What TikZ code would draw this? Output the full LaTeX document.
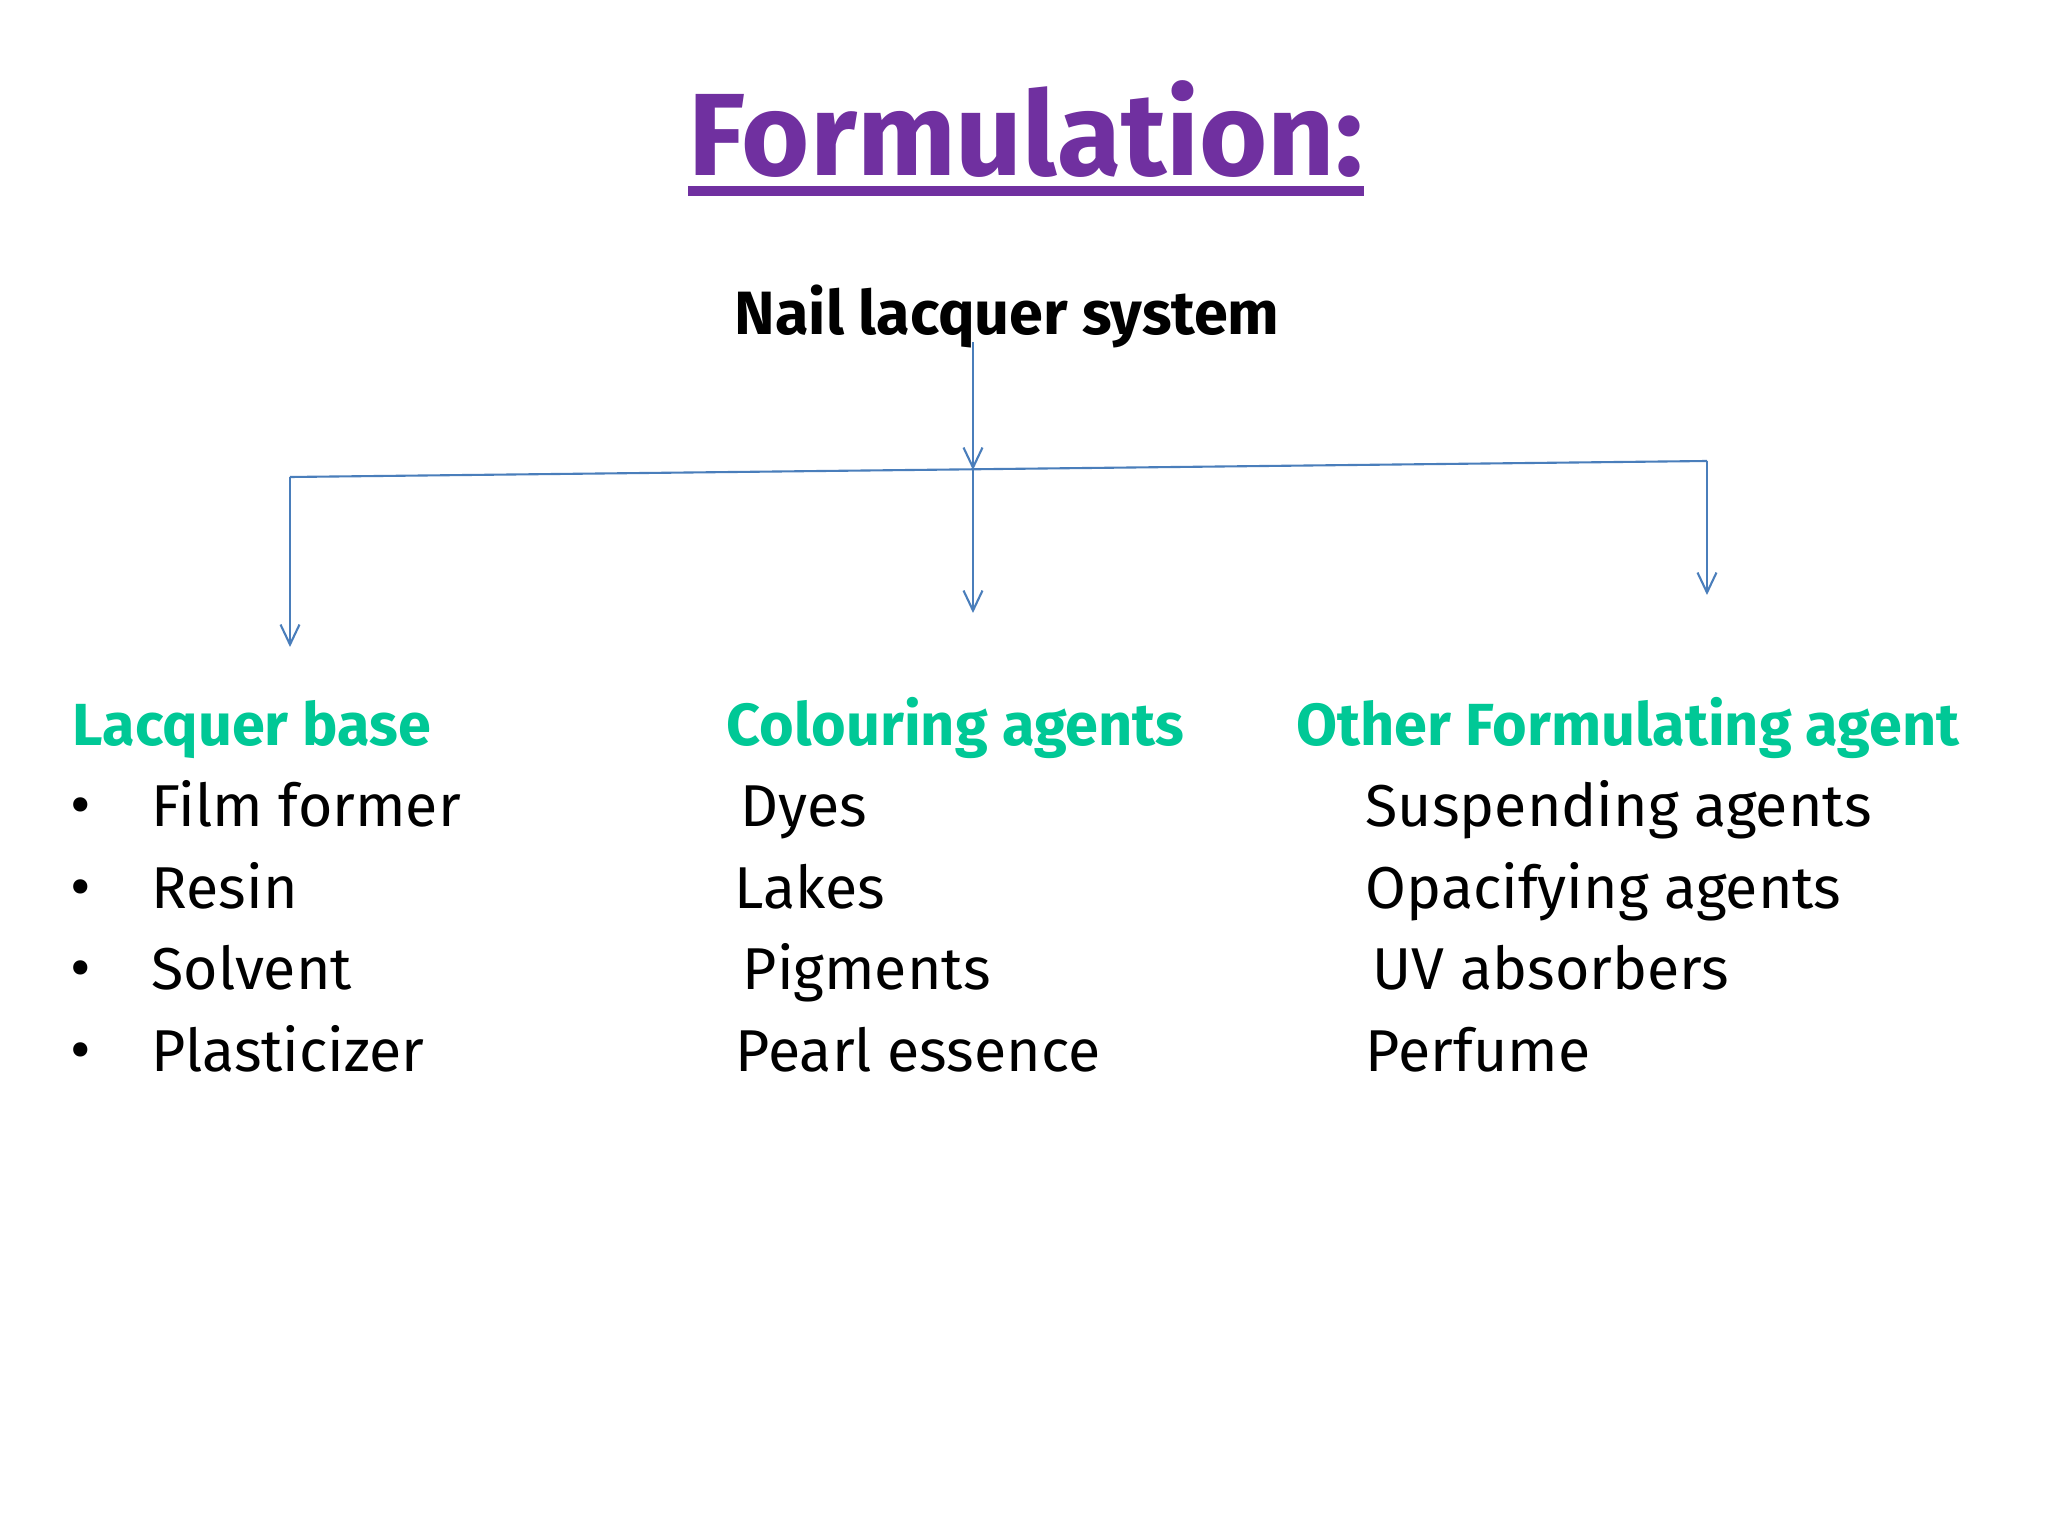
\documentclass[tikz,border=0pt]{standalone}
\usepackage{fontspec}
\setmainfont{Fira Sans}
\usetikzlibrary{arrows.meta}

\definecolor{titlepurple}{HTML}{7030A0}
\definecolor{headgreen}{HTML}{00C896}
\definecolor{linkblue}{HTML}{4A7EBB}

\begin{document}
\begin{tikzpicture}[x=1cm, y=-1cm, >={Straight Barb[length=2mm, width=1.9mm]},
  title/.style={anchor=base west, inner sep=0pt, text=titlepurple,
    font=\fontsize{33.3}{40}\selectfont\bfseries},
  rootlabel/.style={anchor=base west, inner sep=0pt,
    font=\fontsize{17.4}{21}\selectfont\bfseries},
  heading/.style={anchor=base west, inner sep=0pt, text=headgreen,
    font=\fontsize{16.9}{21}\selectfont\bfseries},
  item/.style={anchor=base west, inner sep=0pt,
    font=\fontsize{16.8}{21}\selectfont},
  dot/.style={anchor=base, inner sep=0pt, font=\fontsize{18}{21}\selectfont},
  link/.style={->, linkblue, line width=0.6pt}]
  \useasboundingbox[fill=white] (0,0) rectangle (20.48,15.36);

  % title
  \node[title] (title) at (6.88,1.76) {Formulation:};
  \draw[titlepurple, line width=2.6pt]
    ([yshift=-0.15cm]title.base west) -- ([yshift=-0.15cm]title.base east);

  % root
  \node[rootlabel] (sys) at (7.34,3.35) {Nail lacquer system};

  % branching arrows
  \coordinate (sysfoot) at (9.73,3.42);
  \coordinate (hub) at (9.73,4.70);
  \coordinate (barL) at (2.90,4.77);
  \coordinate (barR) at (17.07,4.61);
  \coordinate (tipL) at (2.90,6.47);
  \coordinate (tipM) at (9.73,6.13);
  \coordinate (tipR) at (17.07,5.95);

  \draw[link] (sysfoot) -- (hub);
  \draw[link, -] (barL) -- (barR);
  \draw[link] (barL) -- (tipL);
  \draw[link] (hub) -- (tipM);
  \draw[link] (barR) -- (tipR);

  % headings
  \node[heading] (base) at (0.72,7.45) {Lacquer base};
  \node[heading] (colour) at (7.26,7.45) {Colouring agents};
  \node[heading] (other) at (12.96,7.45) {Other Formulating agent};

  % lacquer base items
  \node[dot] (d1) at (0.81,8.27) {•};
  \node[dot] (d2) at (0.81,9.08) {•};
  \node[dot] (d3) at (0.81,9.90) {•};
  \node[dot] (d4) at (0.81,10.71) {•};
  \node[item] (film) at (1.51,8.27) {Film former};
  \node[item] (resin) at (1.51,9.08) {Resin};
  \node[item] (solvent) at (1.51,9.90) {Solvent};
  \node[item] (plast) at (1.51,10.71) {Plasticizer};

  % colouring agents
  \node[item] (dyes) at (7.40,8.27) {Dyes};
  \node[item] (lakes) at (7.34,9.08) {Lakes};
  \node[item] (pigm) at (7.42,9.90) {Pigments};
  \node[item] (pearl) at (7.35,10.71) {Pearl essence};

  % other agents
  \node[item] (susp) at (13.65,8.27) {Suspending agents};
  \node[item] (opac) at (13.65,9.08) {Opacifying agents};
  \node[item] (uvabs) at (13.72,9.90) {UV absorbers};
  \node[item] (perf) at (13.65,10.71) {Perfume};
\end{tikzpicture}
\end{document}
